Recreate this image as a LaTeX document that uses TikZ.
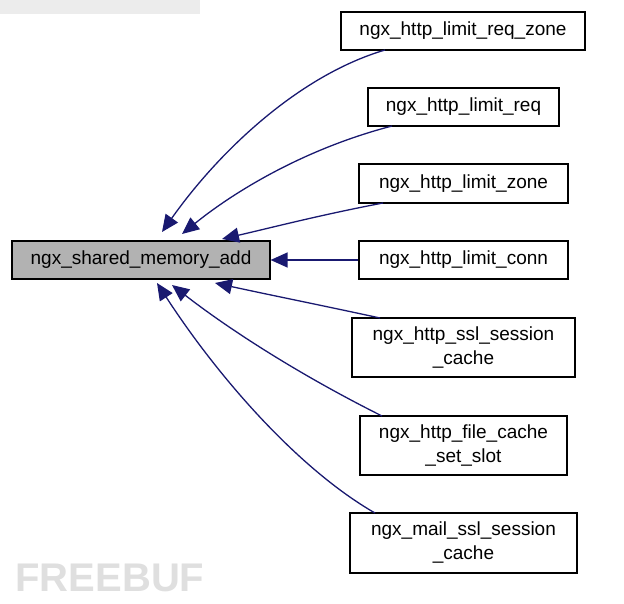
\documentclass[tikz,border=0pt]{standalone}
\usepackage{fontspec}
\setmainfont{Liberation Sans}
\usetikzlibrary{arrows.meta}
\begin{document}
\begin{tikzpicture}[x=1pt,y=-1pt,
  box/.style={draw=black,line width=1.2pt,inner sep=0pt,align=center,font=\fontsize{19}{24}\selectfont},
  edge/.style={draw=navy,line width=1.3pt,-{Triangle[length=17pt,width=15pt]}}]
\definecolor{navy}{HTML}{191970}
\useasboundingbox (0,0) rectangle (624,604);
\fill[gray!15] (0,0) rectangle (200,14);
\node[box,fill=gray!60,minimum width=258pt,minimum height=38pt] (m) at (141,260) {ngx\_shared\_memory\_add};
\node[box,minimum width=244pt,minimum height=38pt] (a) at (463,31) {ngx\_http\_limit\_req\_zone};
\node[box,minimum width=191pt,minimum height=38pt] (b) at (463.5,107) {ngx\_http\_limit\_req};
\node[box,minimum width=209pt,minimum height=39pt] (c) at (463.5,183.5) {ngx\_http\_limit\_zone};
\node[box,minimum width=209pt,minimum height=38pt] (d) at (463.5,260) {ngx\_http\_limit\_conn};
\node[box,minimum width=223pt,minimum height=59pt] (e) at (463.5,347.5) {ngx\_http\_ssl\_session\\\_cache};
\node[box,minimum width=207pt,minimum height=59pt] (f) at (463.5,445.5) {ngx\_http\_file\_cache\\\_set\_slot};
\node[box,minimum width=227pt,minimum height=60pt] (g) at (463.5,543) {ngx\_mail\_ssl\_session\\\_cache};
\coordinate (a1) at (385,50); \coordinate (b1) at (392,126);
\coordinate (c1) at (383,203); \coordinate (e1) at (380,318);
\coordinate (f1) at (382,416); \coordinate (g1) at (375,513);
\draw[edge] (a1) .. controls (300,75) and (220,150) .. (162,232);
\draw[edge] (b1) .. controls (300,150) and (230,195) .. (182,234);
\draw[edge] (c1) .. controls (320,215) and (270,228) .. (222,239);
\draw[edge] (d.west) -- (m.east);
\draw[edge] (e1) .. controls (320,305) and (270,295) .. (215,283);
\draw[edge] (f1) .. controls (300,375) and (230,330) .. (172,285);
\draw[edge] (g1) .. controls (300,470) and (220,380) .. (157,283);
\node[text=gray!25,font=\bfseries\fontsize{40}{40}\selectfont,anchor=west] (w) at (12,578) {FREEBUF};
\end{tikzpicture}
\end{document}
